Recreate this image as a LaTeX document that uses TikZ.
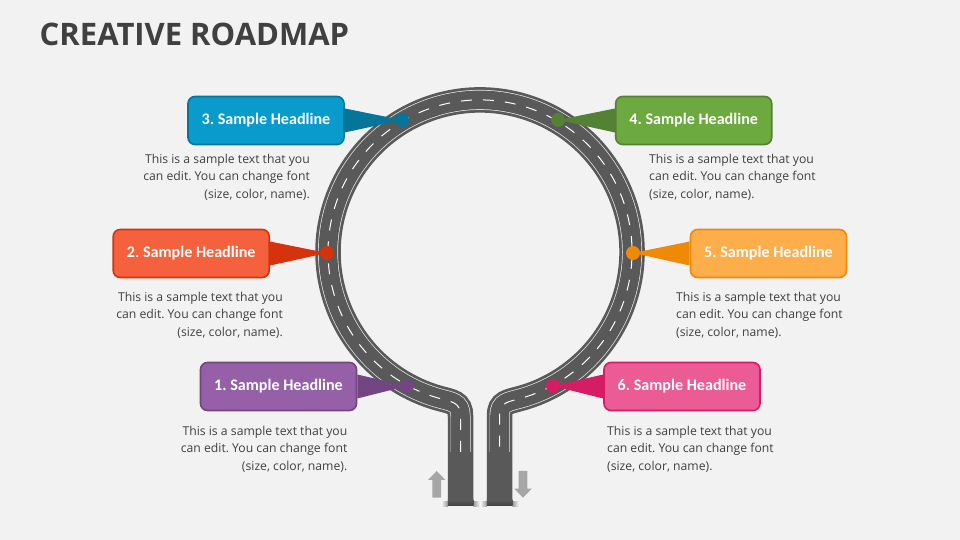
\documentclass[tikz,border=0pt]{standalone}
\usepackage{fontspec}
\setmainfont{Open Sans}
\newfontfamily\headfont{Carlito}
\usepackage{xcolor}
\usepackage{tikz}
\usetikzlibrary{shapes,arrows,positioning,calc}
\frenchspacing

\definecolor{pagebg}{HTML}{F2F2F2}
\definecolor{roadgray}{HTML}{595959}
\definecolor{inkgray}{HTML}{404040}
\definecolor{lanewhite}{HTML}{E6E6E6}
\definecolor{box1}{HTML}{9560A8}
\definecolor{tip1}{HTML}{734583}
\definecolor{box2}{HTML}{F5613C}
\definecolor{tip2}{HTML}{D5330D}
\definecolor{box3}{HTML}{089BCB}
\definecolor{tip3}{HTML}{057599}
\definecolor{box4}{HTML}{6CA93F}
\definecolor{tip4}{HTML}{548235}
\definecolor{box5}{HTML}{FDAE4B}
\definecolor{tip5}{HTML}{EE8A06}
\definecolor{box6}{HTML}{EB5B95}
\definecolor{tip6}{HTML}{D51C65}

% Centre line of the road, leg start given as argument
\newcommand{\roadpath}[1]{(460.5,#1) -- (460.5,124) .. controls (460.5,138) and (452,138) .. (438,142)
    arc[start angle=253.95, end angle=-73.95, radius=152]
    .. controls (508,138) and (499.5,138) .. (499.5,124) -- (499.5,#1)}

\begin{document}
\begin{tikzpicture}[
    x=1pt,
    y=1pt,
    headbox/.style={draw, rounded corners=7pt, line width=1.6pt, minimum width=156pt, minimum height=48pt,
        inner sep=0pt, text=white, font=\headfont\bfseries\fontsize{16.1}{20}\selectfont},
    roaddot/.style={circle, inner sep=0pt, minimum size=14pt},
    note/.style={inner sep=0pt, text=inkgray, font=\fontsize{12.2}{17.3}\selectfont},
    travel/.style={fill=black!35}
]
    % Page background
    \fill[pagebg] (0,0) rectangle (960,540);
    \useasboundingbox (0,0) rectangle (960,540);

    % Title
    \node[anchor=west, inner sep=0pt, text=inkgray, font=\bfseries\fontsize{31}{36}\selectfont] (title) at (39.5,506) {CREATIVE ROADMAP};

    % Road in layers
    \draw[roadgray, line width=25.5pt] \roadpath{34};
    \draw[lanewhite, line width=20pt] \roadpath{88};
    \draw[roadgray, line width=18.6pt] \roadpath{87};
    \draw[white, line width=1pt, dash pattern=on 11pt off 11pt] \roadpath{88};

    % Blurred road ends
    \foreach \x in {460.5,499.5} {
        \shade[left color=pagebg, right color=black!40] (\x-19,33.5) rectangle (\x-12.75,38);
        \shade[left color=black!40, right color=pagebg] (\x+12.75,33.5) rectangle (\x+19,38);
        \shade[top color=roadgray, bottom color=black!75] (\x-12.75,34) rectangle (\x+12.75,40);
    }

    % Direction arrows
    \fill[travel] (436.7,69) -- (445.4,60) -- (441.1,60) -- (441.1,42.3) -- (432.3,42.3) -- (432.3,60) -- (428,60) -- cycle;
    \fill[travel] (523,42.3) -- (531.7,51.3) -- (527.4,51.3) -- (527.4,69) -- (518.6,69) -- (518.6,51.3) -- (514.3,51.3) -- cycle;

    % Headline boxes with pointers to the road
    \foreach \i/\cx/\cy/\dx/\dy/\side in {
        1/278.5/153.5/407/154/east,
        2/191.2/286.5/327/287/east,
        3/266/419.5/402/420/east,
        4/693.7/419.5/558/420/west,
        5/768.5/286.5/633/287/west,
        6/682/153.5/553/154/west} {
        \node[headbox, draw=tip\i, fill=box\i] (head\i) at (\cx,\cy) {\i. Sample Headline};
        \node[roaddot, fill=tip\i] (dot\i) at (\dx,\dy) {};
        \fill[tip\i] ($(head\i.\side)+(0,12)$) -- (dot\i.center) -- ($(head\i.\side)+(0,-12)$) -- cycle;
    }

    % Notes on the left are flush right
    \foreach \i/\nx/\ny in {1/347.5/114, 2/283/248, 3/310/386} {
        \node[note, anchor=north east, align=right] (note\i) at (\nx,\ny)
            {This is a sample text that you\\can edit. You can change font\\(size, color, name).};
    }

    % Notes on the right are flush left
    \foreach \i/\nx/\ny in {4/649/386, 5/676/248, 6/607/114} {
        \node[note, anchor=north west, align=left] (note\i) at (\nx,\ny)
            {This is a sample text that you\\can edit. You can change font\\(size, color, name).};
    }
\end{tikzpicture}
\end{document}
